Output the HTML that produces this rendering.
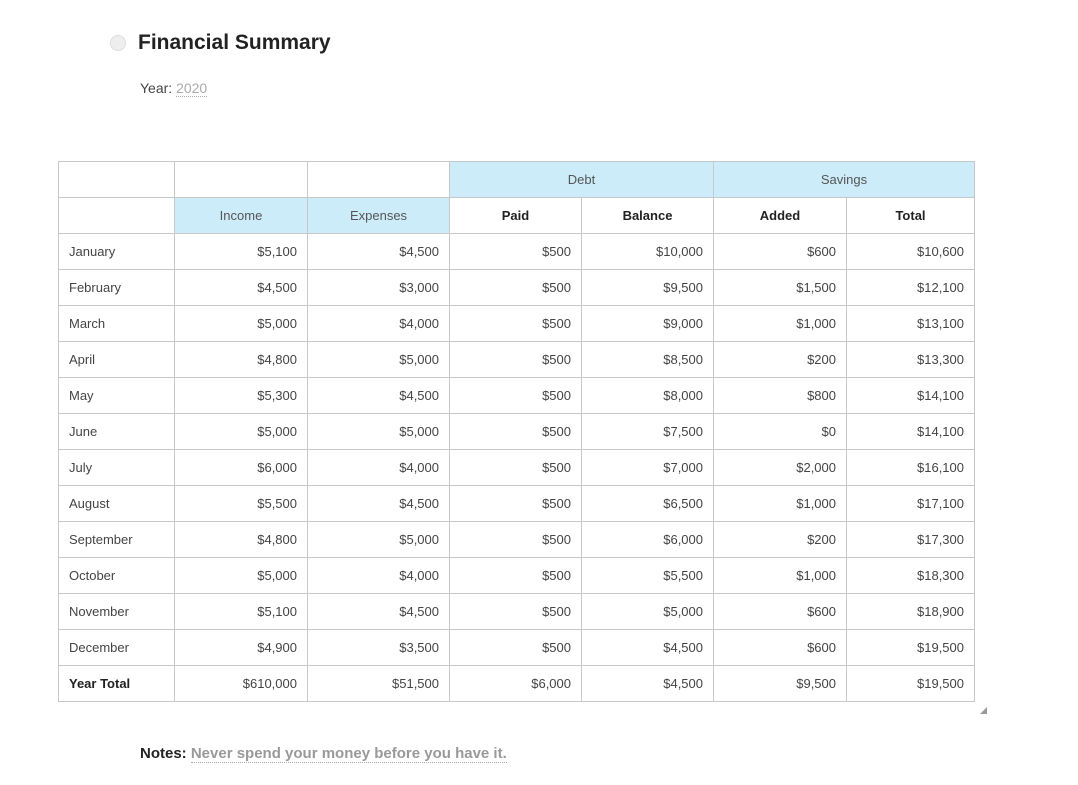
<!DOCTYPE html>
<html><head><meta charset="utf-8"><style>
body{margin:0;width:1078px;height:785px;background:#fff;font-family:"Liberation Sans",sans-serif;color:#333;position:relative;overflow:hidden}
.t{position:absolute;left:58px;top:161px;border-collapse:collapse;table-layout:fixed}
.t tr{height:36px}
.t td{height:36px;border:1px solid #c8c8c8;font-size:13px;padding:0 10px;text-align:right;white-space:nowrap;box-sizing:border-box;color:#444}
.t td:first-child{text-align:left}
.h{background:#cdecfa;text-align:center!important;color:#555!important}
.b{font-weight:bold;text-align:center!important;color:#222!important}
</style></head><body>
<div style="position:absolute;left:110px;top:35px;width:16px;height:16px;border-radius:50%;background:#eee;border:1px solid #ddd;box-sizing:border-box"></div>
<div style="position:absolute;left:138px;top:31px;font-size:21px;font-weight:bold;color:#222">Financial Summary</div>
<div style="position:absolute;left:140px;top:80px;font-size:14px;color:#444">Year: <span style="color:#aaa;border-bottom:1px dotted #aaa">2020</span></div>
<table class="t">
<colgroup><col style="width:116px"><col style="width:133px"><col style="width:142px"><col style="width:132px"><col style="width:132px"><col style="width:133px"><col style="width:128px"></colgroup>
<tr><td></td><td></td><td></td><td class="h" colspan="2">Debt</td><td class="h" colspan="2">Savings</td></tr>
<tr><td></td><td class="h">Income</td><td class="h">Expenses</td><td class="b">Paid</td><td class="b">Balance</td><td class="b">Added</td><td class="b">Total</td></tr>
<tr><td>January</td><td>$5,100</td><td>$4,500</td><td>$500</td><td>$10,000</td><td>$600</td><td>$10,600</td></tr>
<tr><td>February</td><td>$4,500</td><td>$3,000</td><td>$500</td><td>$9,500</td><td>$1,500</td><td>$12,100</td></tr>
<tr><td>March</td><td>$5,000</td><td>$4,000</td><td>$500</td><td>$9,000</td><td>$1,000</td><td>$13,100</td></tr>
<tr><td>April</td><td>$4,800</td><td>$5,000</td><td>$500</td><td>$8,500</td><td>$200</td><td>$13,300</td></tr>
<tr><td>May</td><td>$5,300</td><td>$4,500</td><td>$500</td><td>$8,000</td><td>$800</td><td>$14,100</td></tr>
<tr><td>June</td><td>$5,000</td><td>$5,000</td><td>$500</td><td>$7,500</td><td>$0</td><td>$14,100</td></tr>
<tr><td>July</td><td>$6,000</td><td>$4,000</td><td>$500</td><td>$7,000</td><td>$2,000</td><td>$16,100</td></tr>
<tr><td>August</td><td>$5,500</td><td>$4,500</td><td>$500</td><td>$6,500</td><td>$1,000</td><td>$17,100</td></tr>
<tr><td>September</td><td>$4,800</td><td>$5,000</td><td>$500</td><td>$6,000</td><td>$200</td><td>$17,300</td></tr>
<tr><td>October</td><td>$5,000</td><td>$4,000</td><td>$500</td><td>$5,500</td><td>$1,000</td><td>$18,300</td></tr>
<tr><td>November</td><td>$5,100</td><td>$4,500</td><td>$500</td><td>$5,000</td><td>$600</td><td>$18,900</td></tr>
<tr><td>December</td><td>$4,900</td><td>$3,500</td><td>$500</td><td>$4,500</td><td>$600</td><td>$19,500</td></tr>
<tr><td style="font-weight:bold;color:#222">Year Total</td><td>$610,000</td><td>$51,500</td><td>$6,000</td><td>$4,500</td><td>$9,500</td><td>$19,500</td></tr>
</table>
<div style="position:absolute;left:980px;top:707px;width:0;height:0;border-left:7px solid transparent;border-bottom:7px solid #999"></div>
<div style="position:absolute;left:140px;top:745px;font-size:15px;font-weight:bold;color:#222">Notes: <span style="color:#999;border-bottom:1px dotted #aaa">Never spend your money before you have it.</span></div>
</body></html>
